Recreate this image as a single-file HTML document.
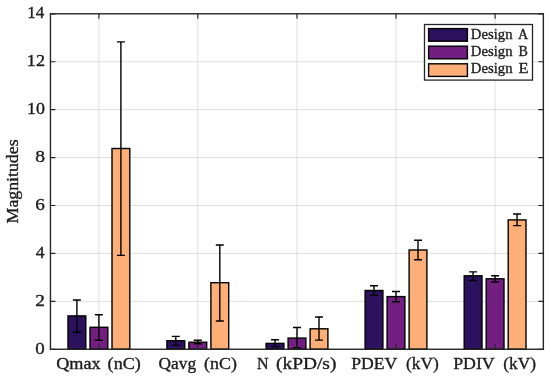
<!DOCTYPE html>
<html lang="en"><head><meta charset="utf-8"><title>Magnitudes by design</title>
<style>html,body{margin:0;padding:0;background:#fff}svg{display:block}text{font-family:"Liberation Serif","DejaVu Serif",serif;fill:#1c1c1c;stroke:#1c1c1c;stroke-width:0.35}</style></head><body>
<svg width="550" height="382" viewBox="0 0 550 382">
<rect width="550" height="382" fill="#fff"/>
<path d="M98.90 13.8V349.25 M197.80 13.8V349.25 M297.00 13.8V349.25 M396.00 13.8V349.25 M495.10 13.8V349.25 M50.45 301.33H543.35 M50.45 253.41H543.35 M50.45 205.49H543.35 M50.45 157.56H543.35 M50.45 109.64H543.35 M50.45 61.72H543.35" stroke="#dfdfdf" stroke-width="1" fill="none"/>
<rect x="68.00" y="315.90" width="17.80" height="33.35" fill="#2c115f" stroke="#000" stroke-width="1.4"/>
<rect x="90.00" y="327.30" width="17.80" height="21.95" fill="#721f81" stroke="#000" stroke-width="1.4"/>
<rect x="112.00" y="148.50" width="17.80" height="200.75" fill="#feaf77" stroke="#000" stroke-width="1.4"/>
<rect x="166.90" y="340.70" width="17.80" height="8.55" fill="#2c115f" stroke="#000" stroke-width="1.4"/>
<rect x="188.90" y="342.20" width="17.80" height="7.05" fill="#721f81" stroke="#000" stroke-width="1.4"/>
<rect x="210.90" y="282.70" width="17.80" height="66.55" fill="#feaf77" stroke="#000" stroke-width="1.4"/>
<rect x="266.10" y="343.40" width="17.80" height="5.85" fill="#2c115f" stroke="#000" stroke-width="1.4"/>
<rect x="288.10" y="338.10" width="17.80" height="11.15" fill="#721f81" stroke="#000" stroke-width="1.4"/>
<rect x="310.10" y="328.80" width="17.80" height="20.45" fill="#feaf77" stroke="#000" stroke-width="1.4"/>
<rect x="365.10" y="290.50" width="17.80" height="58.75" fill="#2c115f" stroke="#000" stroke-width="1.4"/>
<rect x="387.10" y="296.60" width="17.80" height="52.65" fill="#721f81" stroke="#000" stroke-width="1.4"/>
<rect x="409.10" y="250.00" width="17.80" height="99.25" fill="#feaf77" stroke="#000" stroke-width="1.4"/>
<rect x="464.20" y="275.80" width="17.80" height="73.45" fill="#2c115f" stroke="#000" stroke-width="1.4"/>
<rect x="486.20" y="278.80" width="17.80" height="70.45" fill="#721f81" stroke="#000" stroke-width="1.4"/>
<rect x="508.20" y="219.90" width="17.80" height="129.35" fill="#feaf77" stroke="#000" stroke-width="1.4"/>
<path d="M76.90 300.00V332.30M72.90 300.00h8M72.90 332.30h8 M98.90 314.70V340.20M94.90 314.70h8M94.90 340.20h8 M120.90 41.90V255.40M116.90 41.90h8M116.90 255.40h8 M175.80 336.40V345.40M171.80 336.40h8M171.80 345.40h8 M197.80 340.30V343.80M193.80 340.30h8M193.80 343.80h8 M219.80 245.00V321.00M215.80 245.00h8M215.80 321.00h8 M275.00 339.80V346.60M271.00 339.80h8M271.00 346.60h8 M297.00 327.50V347.80M293.00 327.50h8M293.00 347.80h8 M319.00 317.00V340.10M315.00 317.00h8M315.00 340.10h8 M374.00 285.80V295.20M370.00 285.80h8M370.00 295.20h8 M396.00 291.50V301.70M392.00 291.50h8M392.00 301.70h8 M418.00 240.20V259.80M414.00 240.20h8M414.00 259.80h8 M473.10 271.90V280.50M469.10 271.90h8M469.10 280.50h8 M495.10 275.70V282.00M491.10 275.70h8M491.10 282.00h8 M517.10 214.00V225.60M513.10 214.00h8M513.10 225.60h8" stroke="#000" stroke-width="1.4" fill="none"/>
<path d="M98.90 349.25v-5M98.90 13.8v5 M197.80 349.25v-5M197.80 13.8v5 M297.00 349.25v-5M297.00 13.8v5 M396.00 349.25v-5M396.00 13.8v5 M495.10 349.25v-5M495.10 13.8v5 M50.45 349.25h5M543.35 349.25h-5 M50.45 301.33h5M543.35 301.33h-5 M50.45 253.41h5M543.35 253.41h-5 M50.45 205.49h5M543.35 205.49h-5 M50.45 157.56h5M543.35 157.56h-5 M50.45 109.64h5M543.35 109.64h-5 M50.45 61.72h5M543.35 61.72h-5 M50.45 13.80h5M543.35 13.80h-5" stroke="#262626" stroke-width="1.15" fill="none"/>
<rect x="50.45" y="13.8" width="492.90" height="335.45" fill="none" stroke="#262626" stroke-width="1.4"/>
<rect x="424.5" y="24.5" width="108" height="55.6" fill="#fff" stroke="#262626" stroke-width="1.3"/>
<rect x="428.6" y="28.6" width="38.8" height="12.6" fill="#2c115f" stroke="#000" stroke-width="1.4"/>
<rect x="428.6" y="46.2" width="38.8" height="12.6" fill="#721f81" stroke="#000" stroke-width="1.4"/>
<rect x="428.6" y="63.8" width="38.8" height="12.6" fill="#feaf77" stroke="#000" stroke-width="1.4"/>
<text id="x1a" x="56.17" y="369" font-size="16.6" textLength="44.44" lengthAdjust="spacingAndGlyphs">Qmax</text>
<text id="x1b" x="107.63" y="369" font-size="16.6" textLength="33.17" lengthAdjust="spacingAndGlyphs">(nC)</text>
<text id="x2a" x="158.53" y="369" font-size="16.6" textLength="37.57" lengthAdjust="spacingAndGlyphs">Qavg</text>
<text id="x2b" x="204.02" y="369" font-size="16.6" textLength="32.84" lengthAdjust="spacingAndGlyphs">(nC)</text>
<text id="x3a" x="257.07" y="369" font-size="16.6" textLength="11.60" lengthAdjust="spacingAndGlyphs">N</text>
<text id="x3b" x="275.99" y="369" font-size="16.6" textLength="60.40" lengthAdjust="spacingAndGlyphs">(kPD/s)</text>
<text id="x4a" x="351.25" y="369" font-size="16.6" textLength="46.14" lengthAdjust="spacingAndGlyphs">PDEV</text>
<text id="x4b" x="406.08" y="369" font-size="16.6" textLength="32.78" lengthAdjust="spacingAndGlyphs">(kV)</text>
<text id="x5a" x="453.17" y="369" font-size="16.6" textLength="41.59" lengthAdjust="spacingAndGlyphs">PDIV</text>
<text id="x5b" x="503.33" y="369" font-size="16.6" textLength="32.72" lengthAdjust="spacingAndGlyphs">(kV)</text>
<text id="l1a" x="470.86" y="38.8" font-size="15.1" textLength="41.62" lengthAdjust="spacingAndGlyphs">Design</text>
<text id="l1b" x="518.12" y="38.8" font-size="15.1" textLength="10.20" lengthAdjust="spacingAndGlyphs">A</text>
<text id="l2a" x="470.86" y="56.0" font-size="15.1" textLength="41.62" lengthAdjust="spacingAndGlyphs">Design</text>
<text id="l2b" x="518.58" y="56.0" font-size="15.1" textLength="9.39" lengthAdjust="spacingAndGlyphs">B</text>
<text id="l3a" x="470.86" y="73.3" font-size="15.1" textLength="41.62" lengthAdjust="spacingAndGlyphs">Design</text>
<text id="l3b" x="518.46" y="73.3" font-size="15.1" textLength="9.99" lengthAdjust="spacingAndGlyphs">E</text>
<text id="y14" x="27.18" y="18" font-size="16.4" textLength="17.08" lengthAdjust="spacingAndGlyphs" stroke-width="0.2">14</text>
<text id="y12" x="26.83" y="66" font-size="16.4" textLength="18.10" lengthAdjust="spacingAndGlyphs" stroke-width="0.2">12</text>
<text id="y10" x="27.07" y="114" font-size="16.4" textLength="17.86" lengthAdjust="spacingAndGlyphs" stroke-width="0.2">10</text>
<text id="y8" x="35.34" y="162" font-size="16.4" textLength="9.79" lengthAdjust="spacingAndGlyphs" stroke-width="0.2">8</text>
<text id="y6" x="35.29" y="210" font-size="16.4" textLength="9.63" lengthAdjust="spacingAndGlyphs" stroke-width="0.2">6</text>
<text id="y4" x="35.78" y="258" font-size="16.4" textLength="8.82" lengthAdjust="spacingAndGlyphs" stroke-width="0.2">4</text>
<text id="y2" x="35.38" y="306" font-size="16.4" textLength="9.71" lengthAdjust="spacingAndGlyphs" stroke-width="0.2">2</text>
<text id="y0" x="35.37" y="354" font-size="16.4" textLength="9.44" lengthAdjust="spacingAndGlyphs" stroke-width="0.2">0</text>
<text id="ylab" transform="translate(17.9 223.44) rotate(-90)" font-size="16.6" textLength="84.04" lengthAdjust="spacingAndGlyphs">Magnitudes</text>
</svg></body></html>
